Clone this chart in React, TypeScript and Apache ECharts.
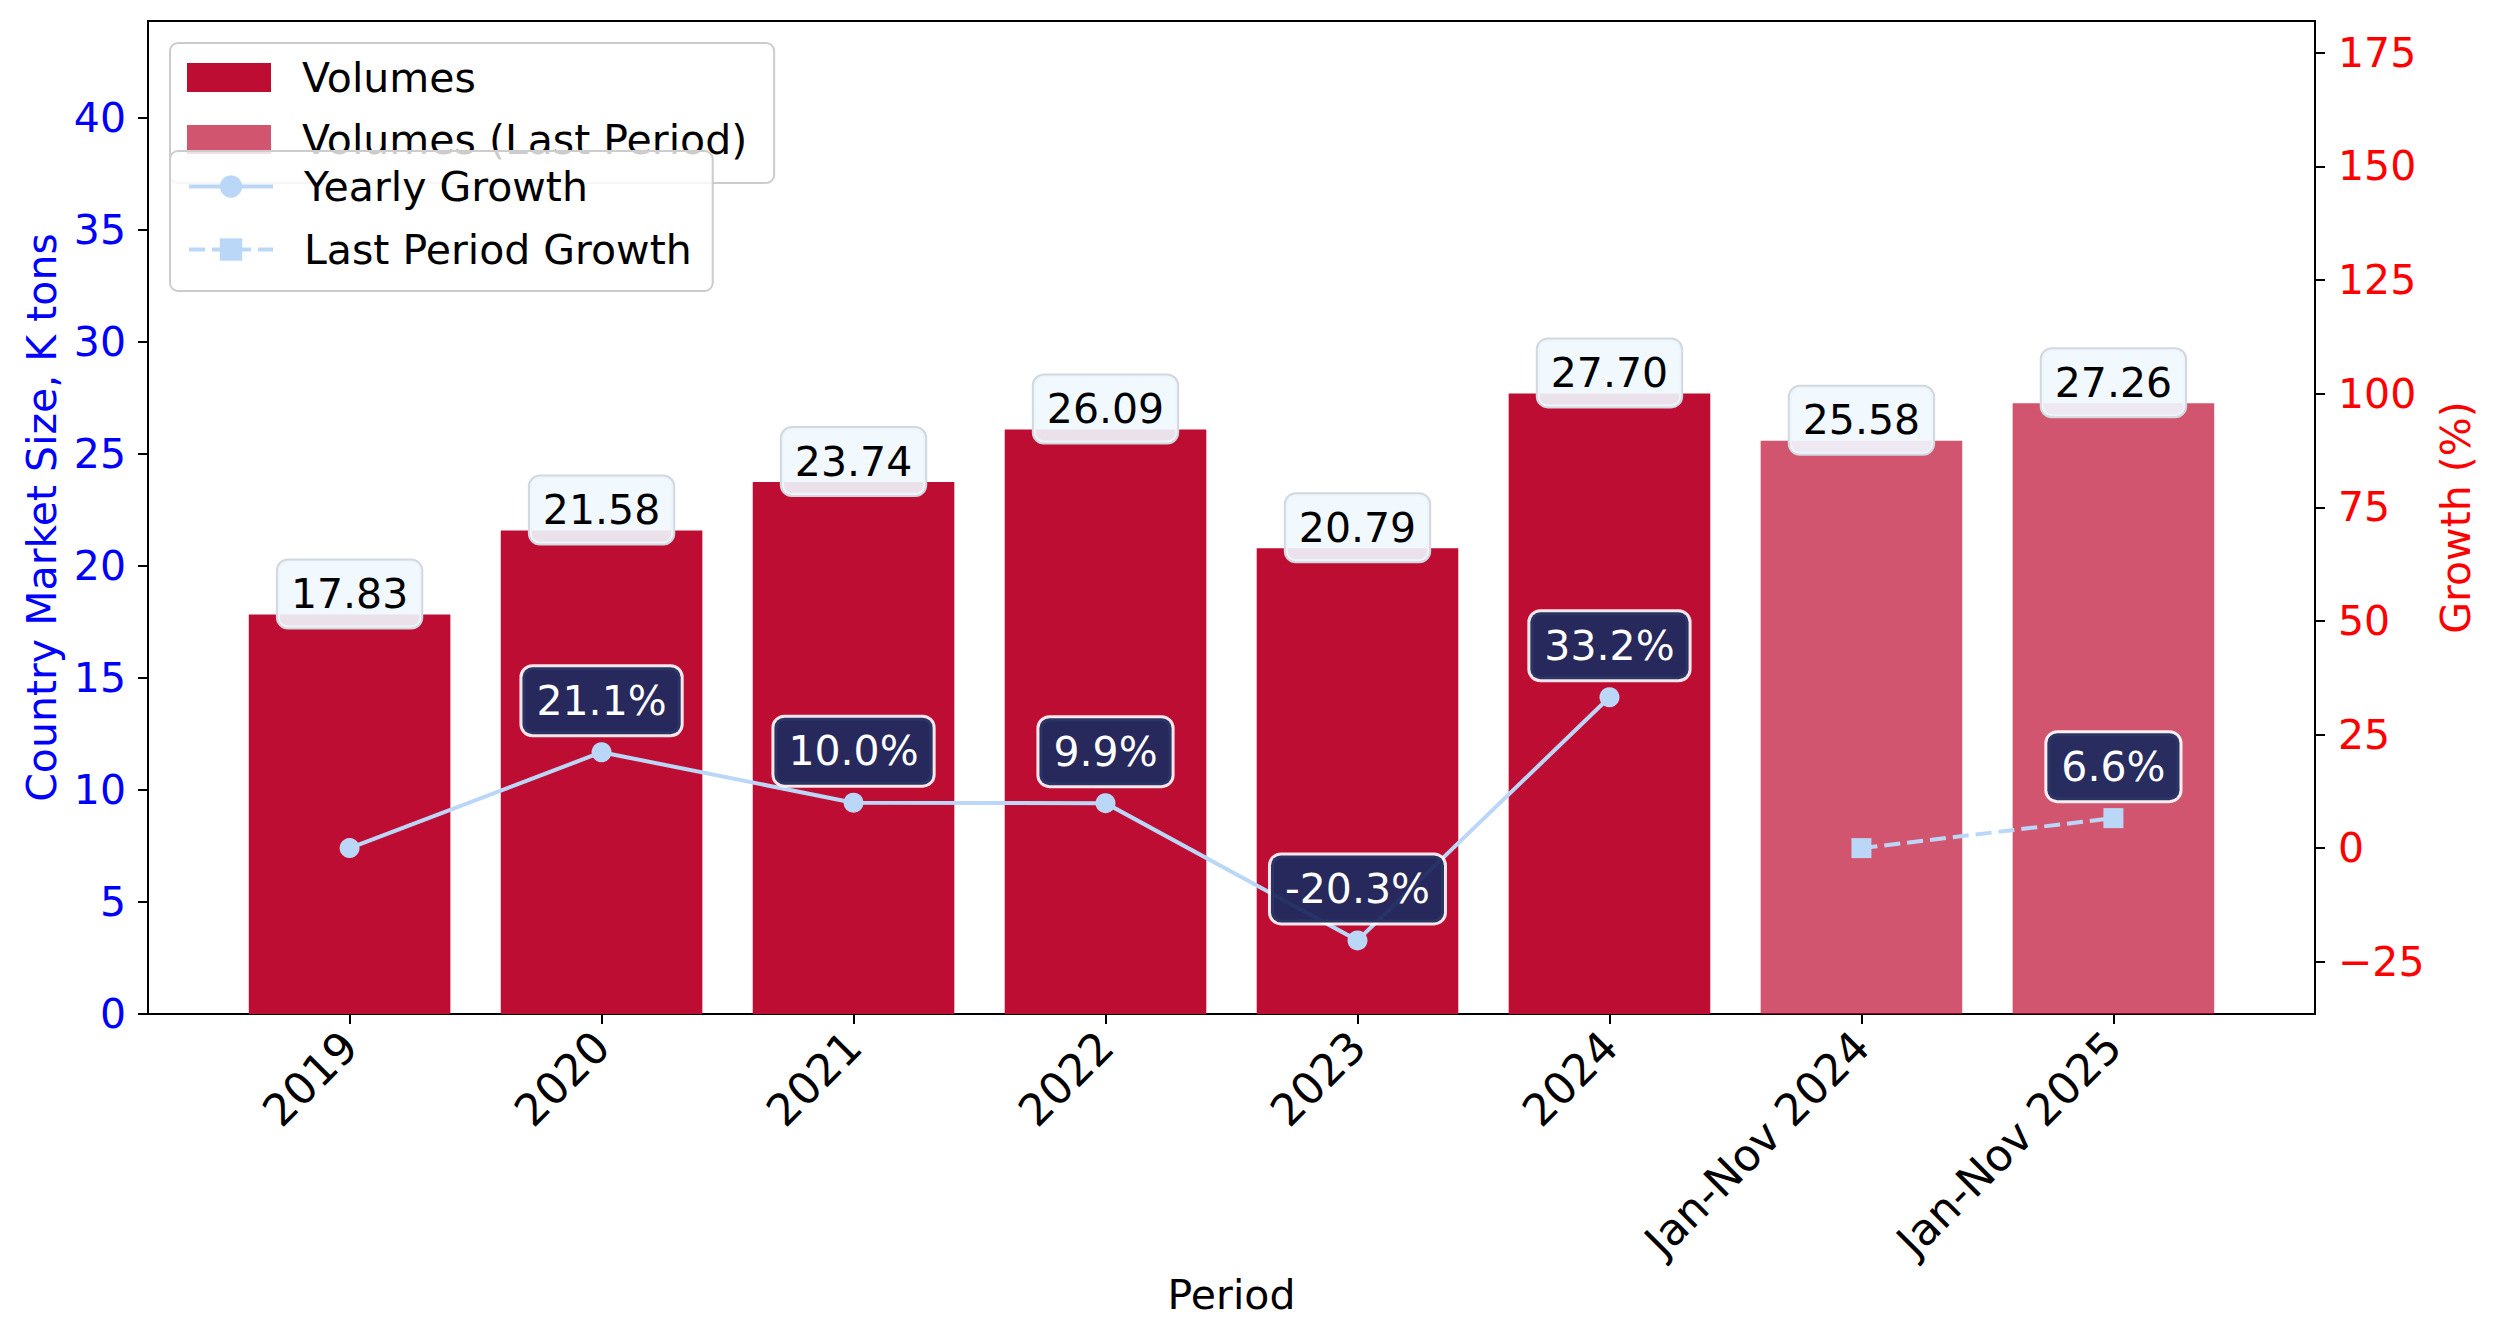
import React, { useEffect, useRef } from "react";
import * as echarts from "echarts";

const categories = ["2019", "2020", "2021", "2022", "2023", "2024", "Jan-Nov 2024", "Jan-Nov 2025"];
const volumes = [17.83, 21.58, 23.74, 26.09, 20.79, 27.7];
const lastPeriodVolumes = [25.58, 27.26];
const yearlyGrowth = [0, 21.1, 10.0, 9.9, -20.3, 33.2];
const lastPeriodGrowth = [0, 6.6];
const leftTicks = [0, 5, 10, 15, 20, 25, 30, 35, 40];
const rightTicks = [-25, 0, 25, 50, 75, 100, 125, 150, 175];

const W = 2499;
const H = 1338;
const FONT = "DejaVu Sans";
const FS = 41;
const GRID = { left: 148, right: 184, top: 21, bottom: 324 };
const X_MIN = -0.8;
const X_MAX = 7.8;

export default function App() {
  const ref = useRef<HTMLDivElement>(null);
  useEffect(() => {
    if (!ref.current) return;
    const chart = echarts.init(ref.current, undefined, { renderer: "svg", width: W, height: H });
    const plotW = W - GRID.left - GRID.right;
    const barWidth = (plotW / (X_MAX - X_MIN)) * 0.8;
    const offset = volumes.length;
    const barColor = "#BD0D32";
    const barColorLight = "rgba(189,13,50,0.7)";
    const lineColor = "#BBD7F8";

    const valueLabel = {
      show: true,
      position: "top",
      distance: -13,
      formatter: (p: any) => Number(p.value[1]).toFixed(2),
      fontFamily: FONT,
      fontSize: FS,
      lineHeight: 45,
      color: "#000",
      backgroundColor: "rgba(240,248,255,0.9)",
      borderColor: "#D3D8DE",
      borderWidth: 2,
      borderRadius: 10,
      padding: [11, 13],
    };
    const growthLabel = {
      show: true,
      position: "top",
      distance: 8,
      formatter: (p: any) => Number(p.value[1]).toFixed(1) + "%",
      fontFamily: FONT,
      fontSize: FS,
      lineHeight: 45,
      color: "#fff",
      backgroundColor: "rgba(31,42,94,0.95)",
      borderColor: "rgba(255,255,255,0.9)",
      borderWidth: 3,
      borderRadius: 10,
      padding: [11, 14],
    };

    const option: any = {
      animation: false,
      backgroundColor: "#fff",
      textStyle: { fontFamily: FONT },
      grid: {
        ...GRID,
        show: true,
        borderColor: "#000",
        borderWidth: 2,
        backgroundColor: "transparent",
        containLabel: false,
      },
      legend: [
        {
          data: ["Volumes", "Volumes (Last Period)"],
          orient: "vertical",
          left: 170,
          top: 43,
          icon: "rect",
          itemWidth: 84,
          itemHeight: 29,
          itemGap: 21,
          padding: [14, 27, 23, 17],
          backgroundColor: "rgba(255,255,255,0.8)",
          borderColor: "#CCCCCC",
          borderWidth: 2,
          borderRadius: 8,
          z: 5,
          selectedMode: false,
          textStyle: { fontFamily: FONT, fontSize: FS, lineHeight: 29, color: "#000", padding: [0, 0, 0, 26] },
        },
        {
          data: ["Yearly Growth", "Last Period Growth"],
          orient: "vertical",
          left: 170,
          top: 151,
          itemWidth: 84,
          itemHeight: 28,
          itemGap: 22,
          padding: [15, 21, 21, 17],
          backgroundColor: "rgba(255,255,255,0.8)",
          borderColor: "#CCCCCC",
          borderWidth: 2,
          borderRadius: 8,
          z: 6,
          selectedMode: false,
          lineStyle: { width: 4 },
          textStyle: { fontFamily: FONT, fontSize: FS, lineHeight: 28, color: "#000", padding: [0, 0, 0, 26] },
        },
      ],
      xAxis: {
        type: "value",
        min: X_MIN,
        max: X_MAX,
        name: "Period",
        nameLocation: "middle",
        nameGap: 260,
        nameTextStyle: { fontFamily: FONT, fontSize: FS, color: "#000" },
        axisLine: { show: true, onZero: false, lineStyle: { color: "#000", width: 2 } },
        axisTick: { show: true, length: 10, customValues: categories.map((_, i) => i), lineStyle: { color: "#000", width: 2 } },
        axisLabel: {
          customValues: categories.map((_, i) => i),
          formatter: (v: number) => categories[Math.round(v)] ?? "",
          rotate: 45,
          margin: 25,
          fontFamily: FONT,
          fontSize: 44,
          color: "#000",
        },
        splitLine: { show: false },
      },
      yAxis: [
        {
          type: "value",
          min: 0,
          max: 44.32,
          position: "left",
          name: "Country Market Size, K tons",
          nameLocation: "middle",
          nameRotate: 90,
          nameGap: 83,
          nameTextStyle: { fontFamily: FONT, fontSize: FS, color: "#0000FF" },
          axisLine: { show: true, onZero: false, lineStyle: { color: "#000", width: 2 } },
          axisTick: { show: true, length: 10, customValues: leftTicks, lineStyle: { color: "#000", width: 2 } },
          axisLabel: { customValues: leftTicks, margin: 22, fontFamily: FONT, fontSize: FS, color: "#0000FF" },
          splitLine: { show: false },
        },
        {
          type: "value",
          min: -36.5,
          max: 182,
          position: "right",
          name: "Growth (%)",
          nameLocation: "middle",
          nameRotate: 90,
          nameGap: 118,
          nameTextStyle: { fontFamily: FONT, fontSize: FS, color: "#FF0000" },
          axisLine: { show: true, onZero: false, lineStyle: { color: "#000", width: 2 } },
          axisTick: { show: true, length: 10, customValues: rightTicks, lineStyle: { color: "#000", width: 2 } },
          axisLabel: {
            customValues: rightTicks,
            margin: 23,
            fontFamily: FONT,
            fontSize: FS,
            color: "#FF0000",
            formatter: (v: number) => (v < 0 ? "\u2212" + Math.abs(v) : String(v)),
          },
          splitLine: { show: false },
        },
      ],
      series: [
        {
          name: "Volumes",
          type: "bar",
          xAxisIndex: 0,
          yAxisIndex: 0,
          barWidth,
          barGap: "-100%",
          data: volumes.map((v, i) => [i, v]),
          itemStyle: { color: barColor },
          label: valueLabel,
          z: 2,
        },
        {
          name: "Volumes (Last Period)",
          type: "bar",
          xAxisIndex: 0,
          yAxisIndex: 0,
          barWidth,
          barGap: "-100%",
          data: lastPeriodVolumes.map((v, i) => [offset + i, v]),
          itemStyle: { color: barColorLight },
          label: valueLabel,
          z: 2,
        },
        {
          name: "Yearly Growth",
          type: "line",
          yAxisIndex: 1,
          data: yearlyGrowth.map((v, i) => (i === 0 ? { value: [i, v], label: { show: false } } : [i, v])),
          symbol: "circle",
          symbolSize: 20,
          showAllSymbol: true,
          lineStyle: { color: lineColor, width: 4 },
          itemStyle: { color: lineColor },
          label: growthLabel,
          z: 3,
        },
        {
          name: "Last Period Growth",
          type: "line",
          yAxisIndex: 1,
          data: lastPeriodGrowth.map((v, i) =>
            i === 0 ? { value: [offset + i, v], label: { show: false } } : [offset + i, v]
          ),
          symbol: "rect",
          symbolSize: 20,
          showAllSymbol: true,
          lineStyle: { color: lineColor, width: 4, type: [16, 7] },
          itemStyle: { color: lineColor },
          label: growthLabel,
          z: 3,
        },
      ],
    };
    chart.setOption(option);
    return () => chart.dispose();
  }, []);
  return (
    <div
      ref={ref}
      style={{ position: "fixed", left: 0, top: 0, width: W, height: H, background: "#fff" }}
    />
  );
}
